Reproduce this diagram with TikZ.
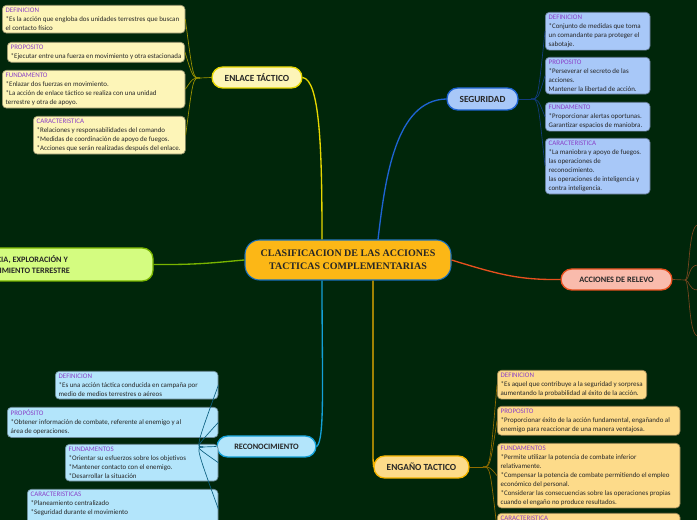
\documentclass[tikz,border=0pt]{standalone}
\usepackage{fontspec}
\setmainfont{Carlito}
\newfontfamily\serifb{Liberation Serif}
\definecolor{bg}{HTML}{00260A}
\definecolor{yel}{HTML}{FDF5B8}
\definecolor{per}{HTML}{A8C8F8}
\definecolor{cya}{HTML}{B3E5FB}
\definecolor{ora}{HTML}{FDDB8A}
\definecolor{purp}{HTML}{8A3FC8}
\definecolor{cyel}{HTML}{E6D700}
\definecolor{cblu}{HTML}{1E64D2}
\definecolor{cgrn}{HTML}{78B400}
\definecolor{fgrn}{HTML}{D4FC80}
\definecolor{cred}{HTML}{E6501E}
\definecolor{fred}{HTML}{F9BBAC}
\definecolor{ccya}{HTML}{14A0D7}
\definecolor{cora}{HTML}{F5B400}
\definecolor{fcen}{HTML}{FCB716}
\definecolor{cbrn}{HTML}{784620}
\newcommand{\hh}[1]{\textcolor{purp}{#1}\par}
\newcommand{\pb}[2]{\parbox{#1pt}{\raggedright\hangindent=0pt #2}}
\begin{document}
\begin{tikzpicture}[x=0.75pt,y=-0.75pt,
  leaf/.style={draw=#1!60!black, fill=#1, rounded corners=3pt, anchor=north west, align=left,
    inner xsep=2.5pt, inner ysep=2pt, font=\fontsize{5.2}{6.7}\selectfont, text=black!85, line width=0.5pt},
  topic/.style={draw=#1, rounded corners=8pt, line width=1pt, font=\fontsize{7}{8}\selectfont\bfseries, text=black!85, inner sep=0pt}]
\fill[bg] (0,0) rectangle (697,520);
\useasboundingbox (0,0) rectangle (697,520);

% central
\node[draw=cyan!50!blue, fill=fcen, rounded corners=11pt, line width=0.8pt,
  minimum width=154.5pt, minimum height=30pt, align=center, font=\serifb\bfseries\fontsize{7.5}{10}\selectfont, text=black!85]
  (c) at (348,260) {CLASIFICACION DE LAS ACCIONES\\TACTICAS COMPLEMENTARIAS};

% topics
\node[topic=cyel, fill=yel, minimum width=67.5pt, minimum height=15.75pt] (en) at (257,77.5) {ENLACE TÁCTICO};
\node[topic=cblu, fill=per, minimum width=53.25pt, minimum height=16.5pt] (se) at (482.5,99) {SEGURIDAD};
\node[topic=cgrn, fill=fgrn, minimum width=165pt, minimum height=24.75pt, inner xsep=0pt, font=\fontsize{6.2}{8}\selectfont\bfseries] (gr) at (43,264.5) {\parbox{150pt}{\hspace*{19pt}VIGILANCIA, EXPLORACIÓN Y\par\hspace*{17pt}RECONOCIMIENTO TERRESTRE}};
\node[topic=cred, fill=fred, minimum width=83.25pt, minimum height=15.75pt, font=\fontsize{6.2}{8}\selectfont\bfseries] (re) at (616.5,279.5) {ACCIONES DE RELEVO};
\node[topic=ccya, fill=cya, minimum width=74.25pt, minimum height=15.75pt, font=\fontsize{6.2}{8}\selectfont\bfseries] (rc) at (266.5,446.5) {RECONOCIMIENTO};
\node[topic=cora, fill=ora, minimum width=71.25pt, minimum height=16.5pt] (eg) at (421.5,467) {ENGAÑO TACTICO};

% main connectors
\draw[line width=1pt, cyel] (en.east) .. controls (320,80) and (322,150) .. (c.north -| 322,0);
\draw[line width=1pt, cblu] (se.west) .. controls (395,100) and (385,180) .. (c.north -| 378,0);
\draw[line width=1pt, cgrn] (gr.east) .. controls (200,265) and (220,262) .. (c.west);
\draw[line width=1pt, cred] (c.east) .. controls (500,275) and (520,280) .. (re.west);
\draw[line width=1pt, ccya] (rc.east) .. controls (325,440) and (322,380) .. (c.south -| 322,0);
\draw[line width=1pt, cora] (c.south -| 373,0) -- (373,455) .. controls (373,465) and (374,467) .. (eg.west);

% enlace children
\node[leaf=yel] (e1) at (2,5) {\pb{132}{\hh{DEFINICION}*Es la acción que engloba dos unidades terrestres que buscan el contacto físico}};
\node[leaf=yel] (e2) at (7,42) {\pb{128}{\hh{PROPOSITO}*Ejecutar entre una fuerza en movimiento y otra estacionada}};
\node[leaf=yel] (e3) at (2,70) {\pb{132}{\hh{FUNDAMENTO}*Enlazar dos fuerzas en movimiento.\par*La acción de enlace táctico se realiza con una unidad terrestre y otra de apoyo.}};
\node[leaf=yel] (e4) at (33,116) {\pb{109}{\hh{CARACTERISTICA}*Relaciones y responsabilidades del comando\par*Medidas de coordinación de apoyo de fuegos.\par*Acciones que serán realizadas después del enlace.}};
\coordinate (ej) at (200,78);
\draw[cyel!70!black, line width=0.5pt] (en.west) -- (ej);
\foreach \n in {e1,e2,e3,e4} \draw[cyel!70!black, line width=0.5pt] (ej) .. controls (193,78) and (193,78) .. (\n.east);

% seguridad children
\node[leaf=per] (s1) at (545,12) {\pb{73.5}{\hh{DEFINICION}*Conjunto de medidas que toma un comandante para proteger el sabotaje.}};
\node[leaf=per] (s2) at (545,57) {\pb{73.5}{\hh{PROPOSITO}*Perseverar el secreto de las acciones.\par Mantener la libertad de acción.}};
\node[leaf=per] (s3) at (545,102) {\pb{73.5}{\hh{FUNDAMENTO}*Proporcionar alertas oportunas.\par Garantizar espacios de maniobra.}};
\node[leaf=per] (s4) at (545,138) {\pb{73.5}{\hh{CARACTERISTICA}*La maniobra y apoyo de fuegos.\par las operaciones de\par reconocimiento.\par las operaciones de inteligencia y contra inteligencia.}};
\coordinate (sj) at (531,99);
\draw[cblu!60!black, line width=0.5pt] (se.east) -- (sj);
\foreach \n in {s1,s2,s3,s4} \draw[cblu!60!black, line width=0.5pt] (sj) .. controls (538,99) and (538,99) .. (\n.west);

% relevo branches
\coordinate (rj) at (685,280);
\draw[cbrn, line width=0.5pt] (re.east) -- (rj);
\foreach \yy in {225,265,290,336} {
  \coordinate (rt) at (698,\yy);
  \draw[cbrn, line width=0.5pt] (rj) .. controls (690,280) and (688,\yy) .. (rt);
}

% reconocimiento children
\node[leaf=cya] (r1) at (55,371) {\pb{117}{\hh{DEFINICION}*Es una acción táctica conducida en campaña por medio de medios terrestres o aéreos}};
\node[leaf=cya] (r2) at (7,407) {\pb{153}{\hh{PROPÓSITO}*Obtener información de combate, referente al enemigo y al\par área de operaciones.}};
\node[leaf=cya] (r3) at (65,444) {\pb{109.5}{\hh{FUNDAMENTOS}*Orientar su esfuerzos sobre los objetivos\par*Mantener contacto con el enemigo.\par*Desarrollar la situación}};
\node[leaf=cya] (r4) at (27,489) {\pb{138}{\hh{CARACTERISTICAS}*Planeamiento centralizado\par*Seguridad durante el movimiento\par\strut}};
\coordinate (rcj) at (203,447);
\draw[ccya!60!black, line width=0.5pt] (rc.west) -- (rcj);
\foreach \n in {r1,r2,r3,r4} \draw[ccya!60!black, line width=0.5pt] (rcj) .. controls (196,447) and (196,447) .. (\n.east);

% engaño children
\node[leaf=ora] (g1) at (497,370) {\pb{107}{\hh{DEFINICION}*Es aquel que contribuye a la seguridad y sorpresa aumentando la probabilidad al éxito de la acción.}};
\node[leaf=ora] (g2) at (497,406) {\pb{132}{\hh{PROPOSITO}*Proporcionar éxito de la acción fundamental, engañando al enemigo para reaccionar de una manera ventajosa.}};
\node[leaf=ora] (g3) at (497,443) {\pb{132}{\hh{FUNDAMENTOS}*Permite utilizar la potencia de combate inferior relativamente.\par*Compensar la potencia de combate permitiendo el empleo económico del personal.\par*Considerar las consecuencias sobre las operaciones propias cuando el engaño no produce resultados.}};
\node[leaf=ora] (g4) at (497,513) {\pb{132}{\hh{CARACTERISTICA}\strut\par\strut}};
\coordinate (gj) at (483,467);
\draw[cora!60!black, line width=0.5pt] (eg.east) -- (gj);
\foreach \n in {g1,g2,g3,g4} \draw[cora!60!black, line width=0.5pt] (gj) .. controls (490,467) and (490,467) .. (\n.west);
\end{tikzpicture}
\end{document}
